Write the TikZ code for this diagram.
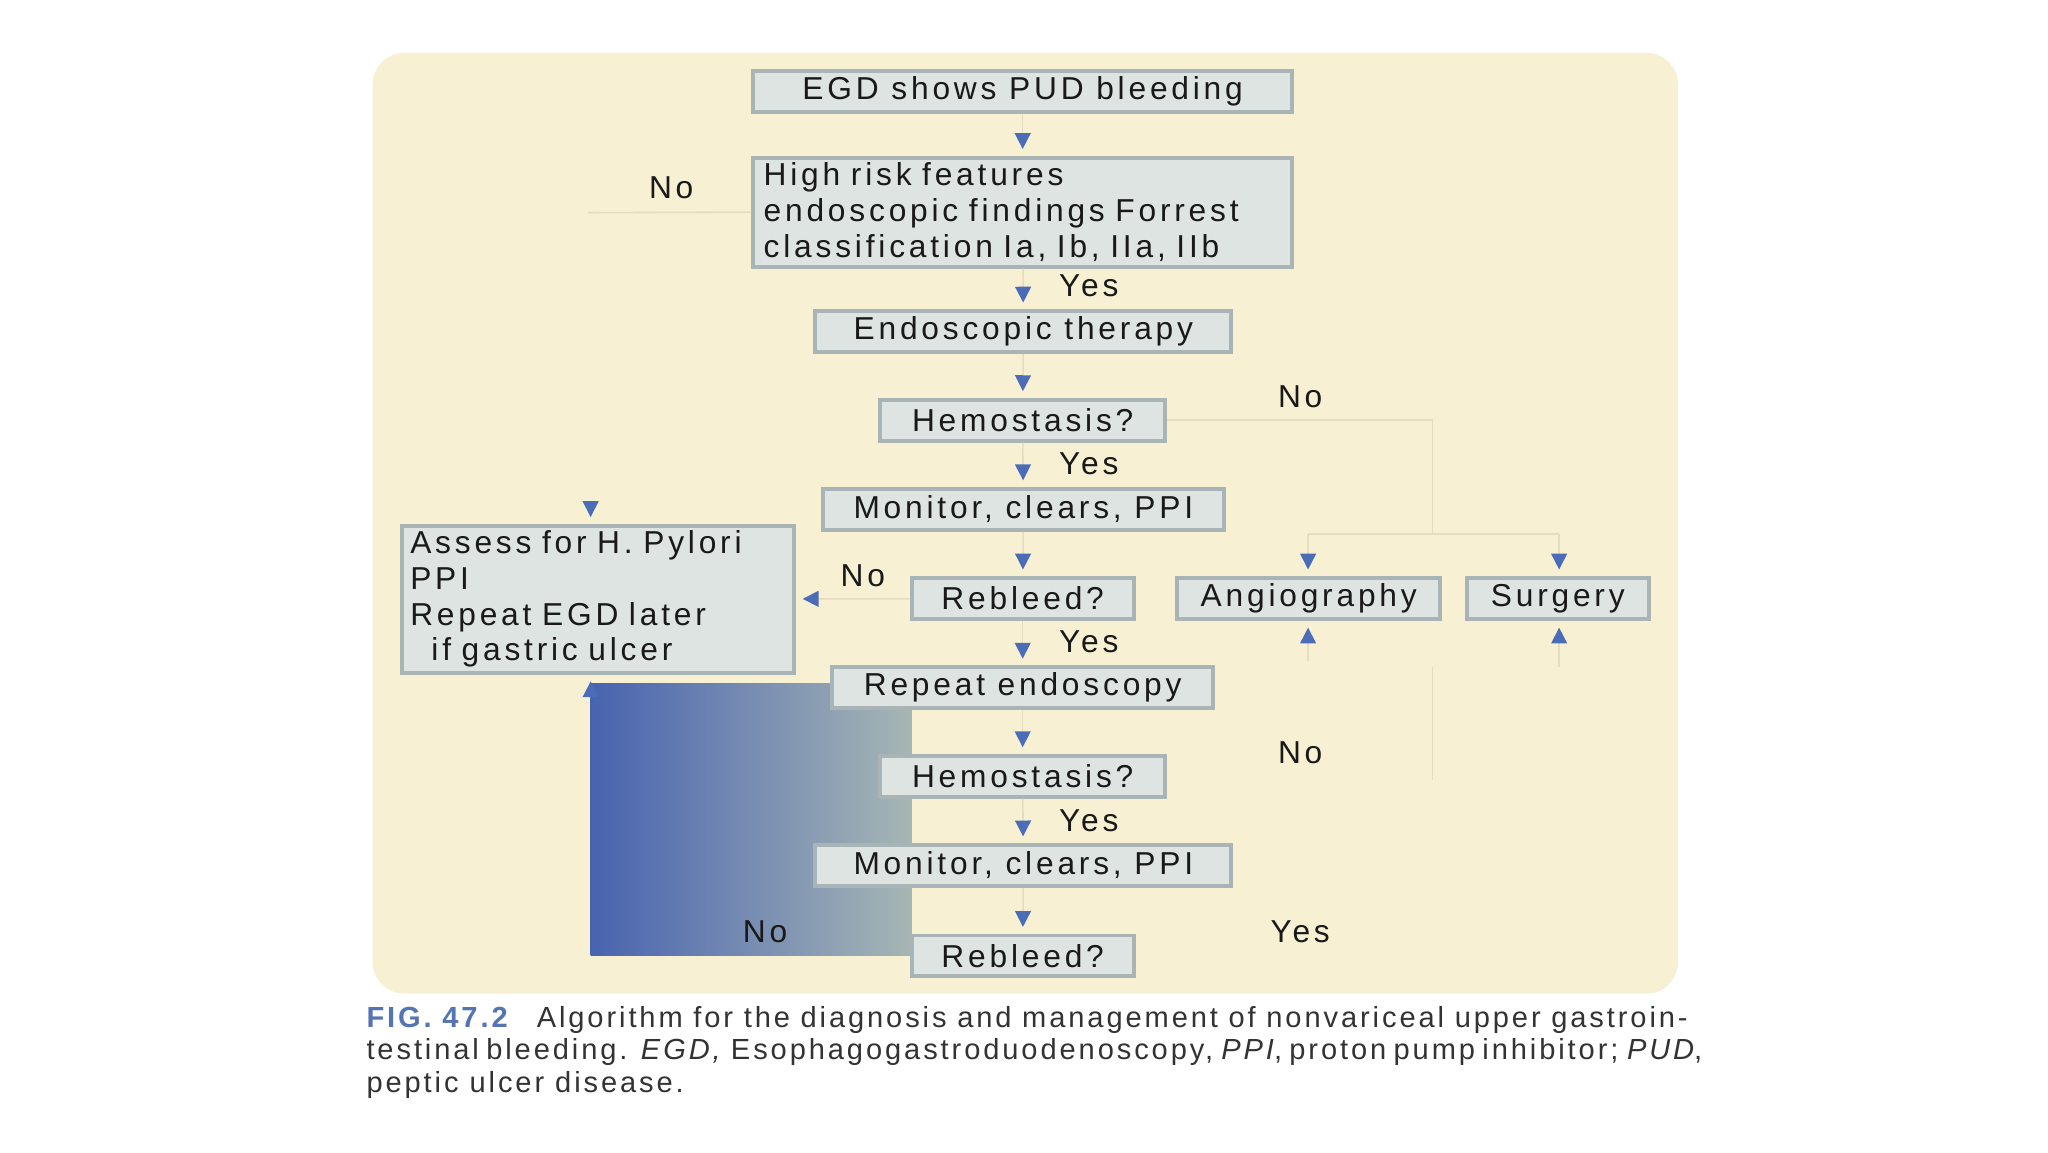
\documentclass[tikz,border=0pt]{standalone}
\usepackage{fontspec}
\setmainfont{Liberation Sans}
\newfontfamily\boxfont[LetterSpace=12]{Liberation Sans}
\newfontfamily\capfont[LetterSpace=10]{Liberation Sans}
\usetikzlibrary{arrows.meta}
\definecolor{panel}{HTML}{F8F0D2}
\definecolor{boxfill}{HTML}{DEE4E2}
\definecolor{boxborder}{HTML}{A8B4B6}
\definecolor{arrowblue}{HTML}{4B6CB7}
\definecolor{linecol}{HTML}{E6DCC0}
\definecolor{figblue}{HTML}{5574B3}
\definecolor{gradl}{HTML}{4863B0}
\definecolor{gradr}{HTML}{A6B6B4}
\tikzset{
  box/.style={draw=boxborder, line width=1.5pt, fill=boxfill, minimum height=15.5pt, inner sep=2pt, font=\boxfont\fontsize{12}{13.5}\selectfont, text=black!90},
  conn/.style={draw=linecol, line width=0.6pt, -{Triangle[width=6pt,length=6pt,fill=arrowblue,color=arrowblue]}, shorten >=2.5pt},
  faint/.style={draw=linecol, line width=0.6pt},
  lab/.style={font=\boxfont\fontsize{12}{13.5}\selectfont, text=black!90}
}
\begin{document}
\begin{tikzpicture}[x=0.5pt,y=-0.5pt]
\useasboundingbox[fill=white] (0,0) rectangle (1550,872);
\fill[panel, rounded corners=12pt] (282,40) rectangle (1270,752);
\shade[left color=gradl, right color=gradr] (447,517) rectangle (690,723);

\node[box, minimum width=204pt] (egd) at (774,69) {EGD shows PUD bleeding};
\node[box, minimum width=204pt, minimum height=38.5pt, text width=196pt, align=left] (hr) at (774,160.5) {High risk features\\endoscopic findings Forrest\\classification Ia, Ib, IIa, IIb};
\node[box, minimum width=157.5pt] (endo) at (774.5,251) {Endoscopic therapy};
\node[box, minimum width=108pt] (hem1) at (774,318) {Hemostasis?};
\node[box, minimum width=151.5pt] (mon1) at (774.5,385.5) {Monitor, clears, PPI};
\node[box, minimum width=148.5pt, minimum height=49.5pt, text width=142pt, align=left] (assess) at (452.5,453.5) {Assess for H. Pylori\\PPI\\Repeat EGD later\\\ \ if gastric ulcer};
\node[box, minimum width=84pt] (reb1) at (774,453) {Rebleed?};
\node[box, minimum width=99.5pt] (angio) at (990.5,453) {Angiography};
\node[box, minimum width=69pt] (surg) at (1179,453) {Surgery};
\node[box, minimum width=144pt] (rep) at (774,520.5) {Repeat endoscopy};
\node[box, minimum width=108pt] (hem2) at (774,587.5) {Hemostasis?};
\node[box, minimum width=157.5pt] (mon2) at (774.5,655) {Monitor, clears, PPI};
\node[box, minimum width=84pt] (reb2) at (774,723.5) {Rebleed?};

\draw[conn] (egd) -- (hr);
\draw[conn] (hr) -- (endo);
\draw[conn] (endo) -- (hem1);
\draw[conn] (hem1) -- (mon1);
\draw[conn] (mon1) -- (reb1);
\draw[conn] (reb1) -- (rep);
\draw[conn] (rep) -- (hem2);
\draw[conn] (hem2) -- (mon2);
\draw[conn] (mon2) -- (reb2);
\draw[conn] (reb1) -- (assess);

\coordinate (nol) at (445,161);
\draw[faint] (hr.west) -- (nol);
\coordinate (j1) at (1084,318);
\coordinate (j2) at (1084,404);
\coordinate (ja) at (990,404);
\coordinate (js) at (1180,404);
\draw[faint] (hem1.east) -- (j1) -- (j2);
\draw[faint] (ja) -- (js);
\draw[conn] (ja) -- (angio.north -| ja);
\draw[conn] (js) -- (surg.north -| js);
\coordinate (l1) at (1084,505);
\coordinate (l2) at (1084,590);
\draw[faint] (l1) -- (l2);
\coordinate (ab) at (990,500);
\coordinate (sb) at (1180,505);
\draw[conn] (ab) -- (angio.south -| ab);
\draw[conn] (sb) -- (surg.south -| sb);
\coordinate (at) at (447,385);
\draw[conn] (at) -- (assess.north -| at);
\coordinate (gb) at (447,517);
\draw[conn] (gb) -- (assess.south -| gb);

\node[lab] (n1) at (508,142) {No};
\node[lab] (y1) at (824,216) {Yes};
\node[lab] (n2) at (984,300) {No};
\node[lab] (y2) at (824,351) {Yes};
\node[lab] (n3) at (653,436) {No};
\node[lab] (y3) at (824,486) {Yes};
\node[lab] (n4) at (984,570) {No};
\node[lab] (y4) at (824,621) {Yes};
\node[lab] (n5) at (579,705) {No};
\node[lab] (y5) at (984,705) {Yes};

\node[anchor=north west, inner sep=0pt, text width=500pt, align=justify, font=\capfont\fontsize{11}{12.3}\selectfont, text=black!80] (cap) at (277,761)
{{\color{figblue}\bfseries FIG. 47.2}\quad Algorithm for the diagnosis and management of nonvariceal upper gastrointestinal bleeding. \textit{EGD,} Esophagogastroduodenoscopy, \textit{PPI}, proton pump inhibitor; \textit{PUD}, peptic ulcer disease.\par};
\end{tikzpicture}
\end{document}
